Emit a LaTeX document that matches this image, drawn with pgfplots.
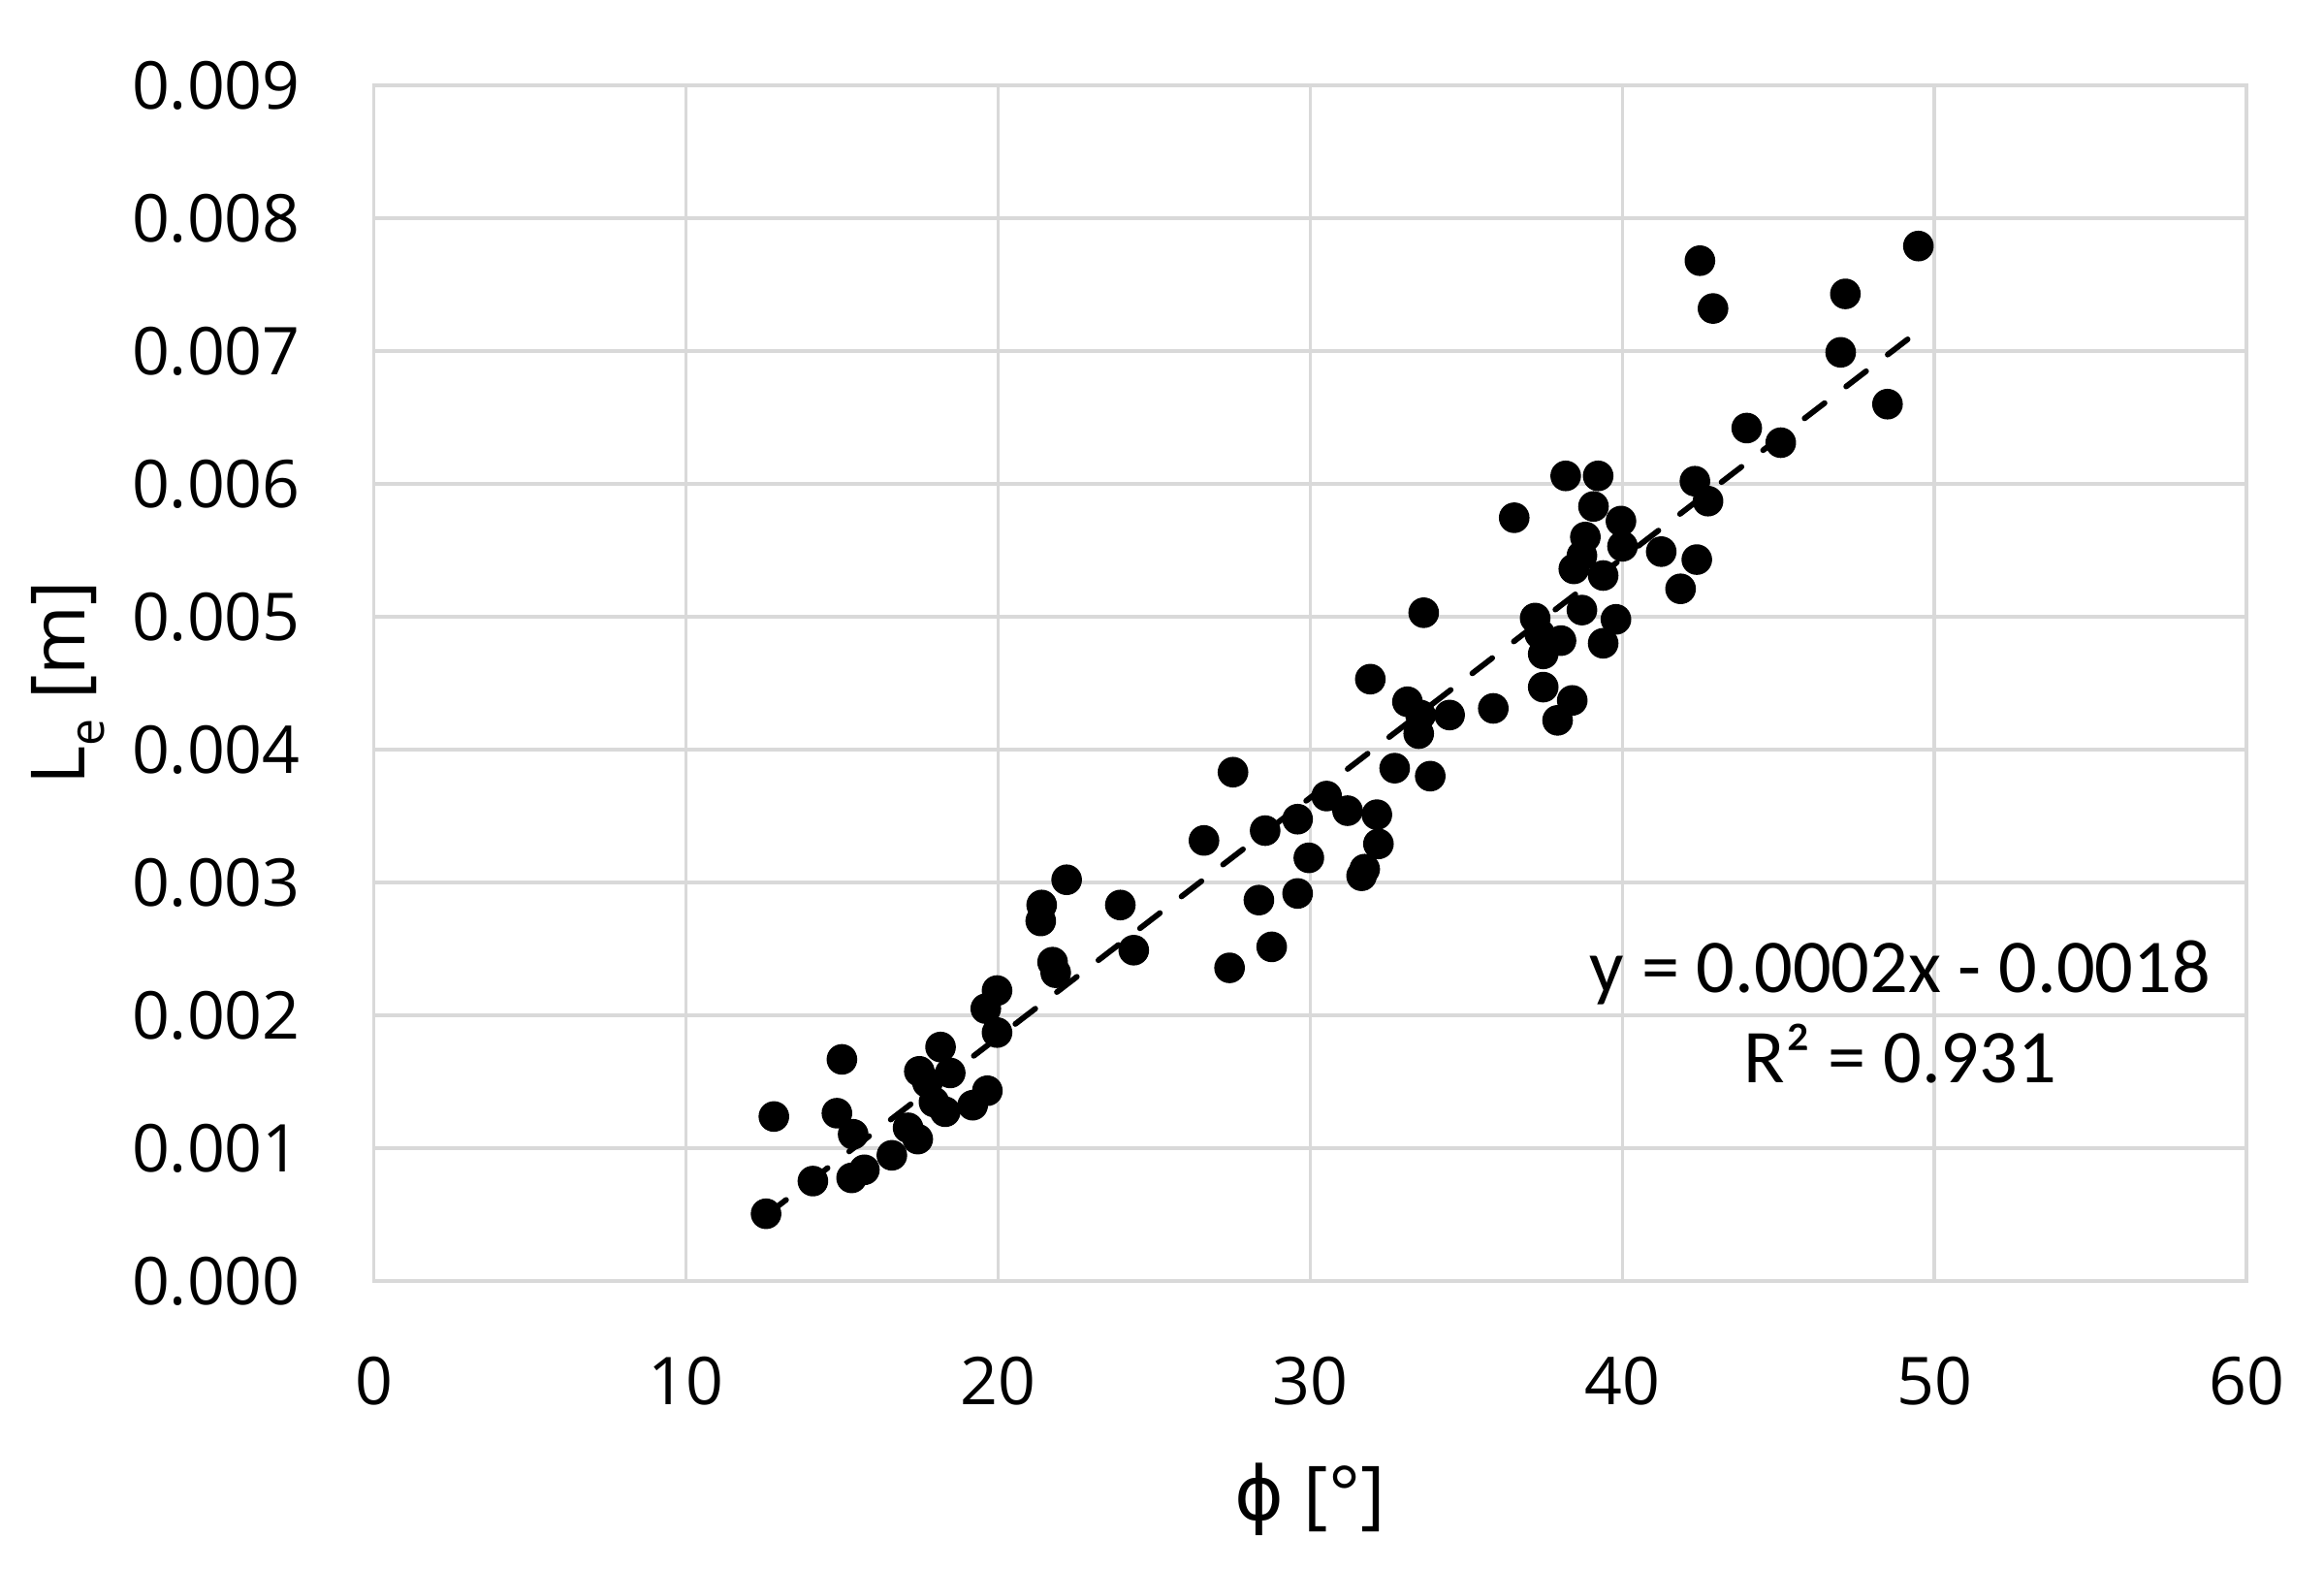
\documentclass[border=0pt]{standalone}
\usepackage{fontspec}
\setmainfont{Open Sans}
\newfontfamily\carlito{Carlito}
\newfontfamily\dejavu{DejaVu Sans}
\usepackage{graphicx}
\usepackage{pgfplots}
\pgfplotsset{compat=1.18}
\definecolor{gridgray}{HTML}{D9D9D9}

\pgfplotstableread{
x y
12.57 0.000506
12.82 0.001238
14.07 0.000752
14.84 0.001263
15.00 0.001668
15.36 0.001104
15.31 0.000776
15.72 0.000837
16.60 0.000946
17.12 0.001153
17.43 0.001068
17.48 0.001578
17.74 0.001493
17.95 0.001347
18.16 0.001761
18.31 0.001274
18.47 0.001566
19.19 0.001323
19.66 0.001432
19.61 0.002050
19.97 0.002186
19.97 0.001870
21.37 0.002710
21.40 0.002830
21.75 0.002400
21.85 0.002320
22.20 0.003020
23.92 0.002830
24.35 0.002490
26.60 0.003316
27.42 0.002357
27.53 0.003830
28.36 0.002867
28.56 0.003390
28.77 0.002515
29.60 0.002917
29.60 0.003476
29.96 0.003185
30.53 0.003650
31.20 0.003540
31.65 0.003050
31.75 0.003100
31.93 0.004530
32.19 0.003290
32.14 0.003510
32.71 0.003860
33.12 0.004360
33.54 0.004260
33.48 0.004120
33.64 0.005030
33.85 0.003800
34.47 0.004260
35.87 0.004310
36.54 0.005745
37.21 0.004990
37.36 0.004870
37.47 0.004720
38.04 0.004820
37.47 0.004470
38.40 0.004370
37.93 0.004220
38.19 0.006060
39.23 0.006060
39.08 0.005830
39.96 0.005720
40.01 0.005530
38.82 0.005600
38.71 0.005460
38.45 0.005360
39.39 0.005310
38.71 0.005050
39.80 0.004980
39.39 0.004800
41.25 0.005490
42.39 0.005430
41.87 0.005210
42.33 0.006020
42.75 0.005870
42.49 0.007680
42.91 0.007320
43.99 0.006420
45.08 0.006310
47.00 0.006990
47.15 0.007430
48.50 0.006600
49.49 0.007790
}\datatable

\begin{document}
\begin{tikzpicture}
\begin{axis}[
  scale only axis,
  width=482.875bp, height=308.25bp,
  xmin=0, xmax=60, ymin=0, ymax=0.009,
  xtick={0,10,20,30,40,50,60},
  ytick={0,0.001,0.002,0.003,0.004,0.005,0.006,0.007,0.008,0.009},
  grid=major,
  major grid style={gridgray, line width=0.8bp},
  axis line style={gridgray, line width=0.9bp},
  major tick length=0pt,
  tick style={draw=none},
  scaled y ticks=false,
  /pgf/number format/assume math mode=true,
  ticklabel style={font=\fontsize{17bp}{20bp}\selectfont, text=black},
  yticklabel style={/pgf/number format/.cd, fixed, fixed zerofill, precision=3, /tikz/.cd,
    anchor=east, inner sep=0pt, xshift=-18.75bp},
  xticklabel style={anchor=north, inner sep=0pt, yshift=-19.25bp},
  xlabel={{\dejavu ϕ} [°]},
  ylabel={L\raisebox{-5bp}{\fontsize{12.5bp}{13bp}\selectfont e} [m]},
  xlabel style={at={(axis description cs:0.5,-0.18289)}, anchor=center, inner sep=0pt,
    font=\fontsize{19.3bp}{22bp}\selectfont},
  ylabel style={at={(axis description cs:-0.16334,0.5)}, anchor=center, inner sep=0pt,
    font=\fontsize{19.3bp}{22bp}\selectfont},
  clip=false,
  axis on top=false,
]
\addplot[black, line width=1.45bp, dash pattern=on 6.5bp off 7bp, line cap=round]
  coordinates {(12.57,0.000495) (49.49,0.00715)};
\addplot[only marks, mark=*, mark size=3.75bp, mark options={fill=black, draw=black}]
  table[x=x, y=y] {\datatable};
\node[anchor=base, inner sep=0pt] at (axis cs:48.91,0.002171)
  {\carlito\fontsize{19.6bp}{22bp}\selectfont y = 0.0002x - 0.0018};
\node[anchor=base, inner sep=0pt] at (axis cs:48.91,0.001490)
  {\carlito\fontsize{19.6bp}{22bp}\selectfont R² = 0.931};
\path (rel axis cs:-0.19959,1.07137) rectangle (rel axis cs:1.04142,-0.24169);
\end{axis}
\end{tikzpicture}
\end{document}
